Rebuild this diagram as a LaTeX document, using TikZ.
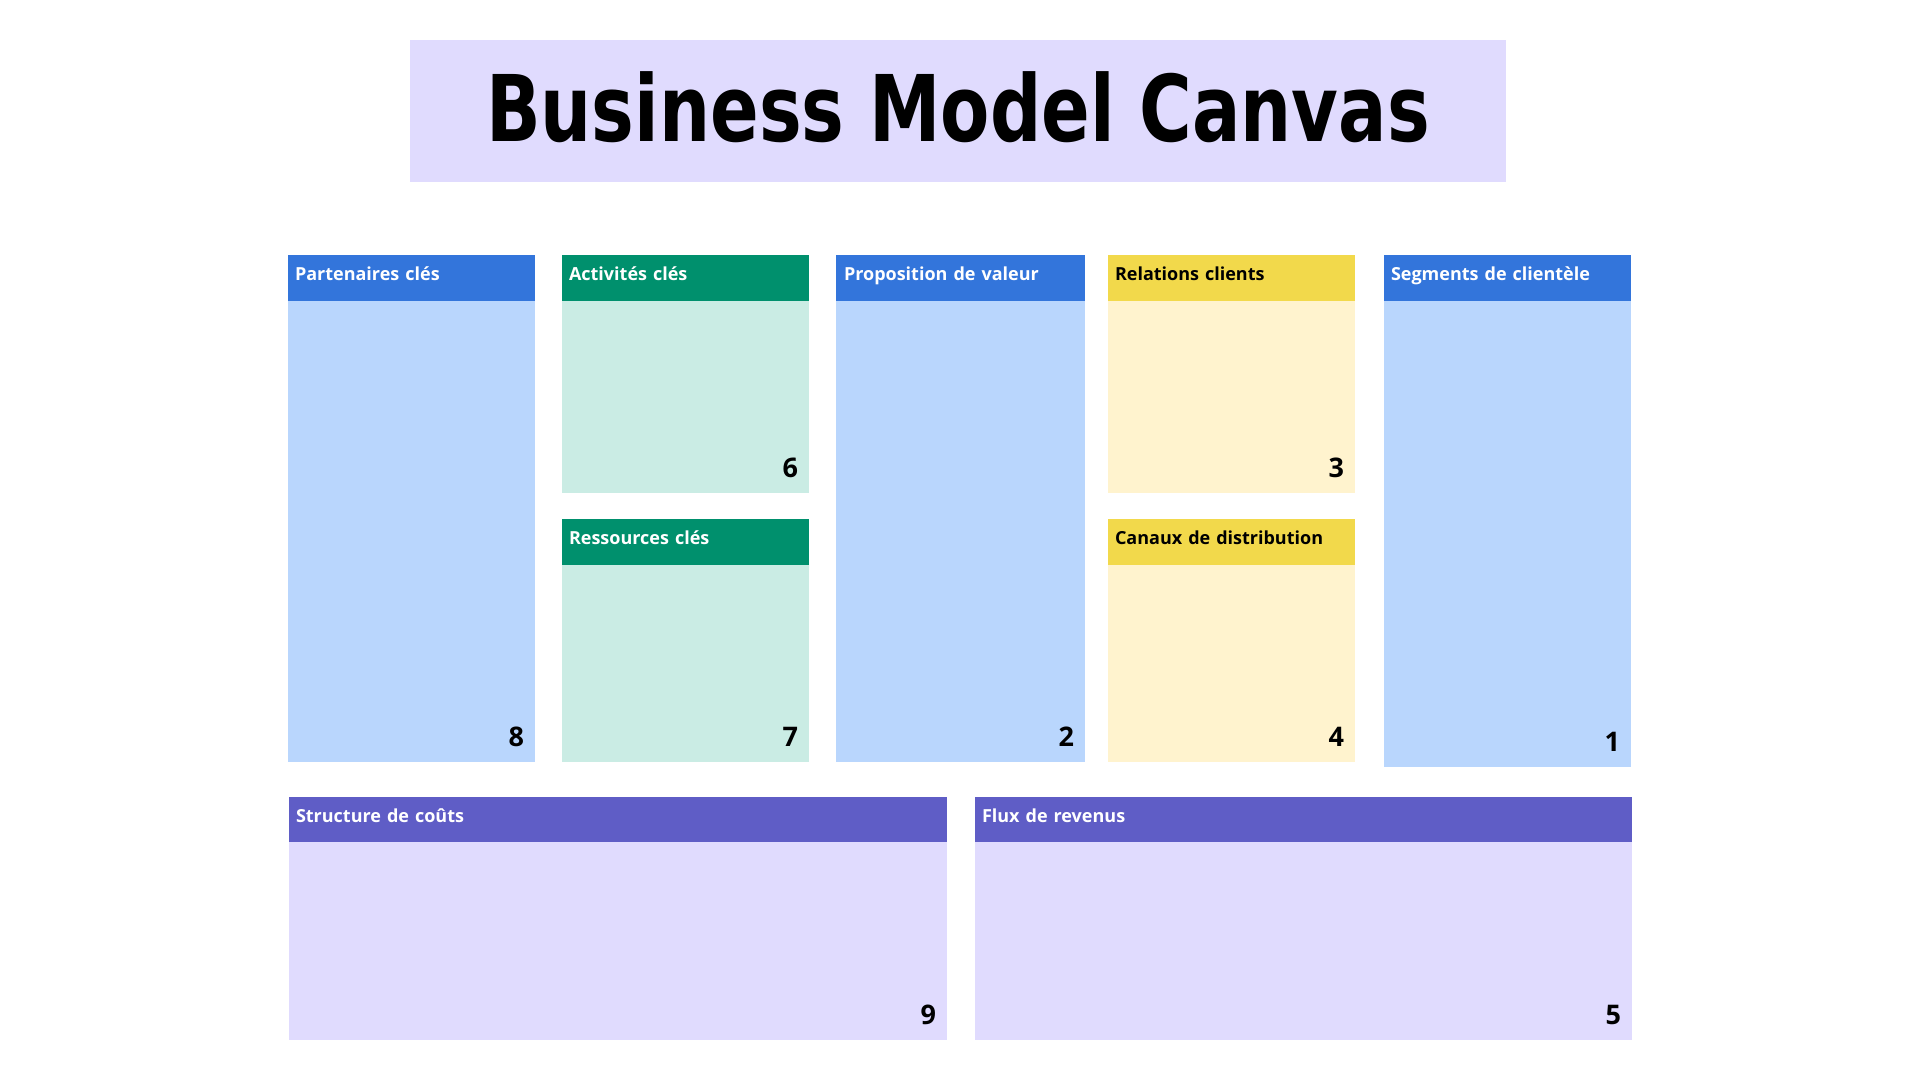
\documentclass[tikz,border=0pt]{standalone}
\usepackage{fontspec}
\setmainfont{Open Sans}
\newfontfamily\titlefont{DejaVu Sans}[FakeStretch=0.78]
\usetikzlibrary{positioning}

\definecolor{blueH}{HTML}{3375DB}
\definecolor{blueL}{HTML}{B9D6FD}
\definecolor{greenH}{HTML}{00906D}
\definecolor{greenL}{HTML}{CAECE4}
\definecolor{yellowH}{HTML}{F2D94B}
\definecolor{yellowL}{HTML}{FFF3CE}
\definecolor{purpleH}{HTML}{5F5DC6}
\definecolor{purpleL}{HTML}{E0DBFE}

\begin{document}
\begin{tikzpicture}[x=1pt, y=-1pt, every node/.style={inner sep=0, outer sep=0},
        body/.style={anchor=north west, minimum width=247pt},
        head/.style={anchor=north west, minimum width=247pt, minimum height=46pt, text width=233pt, inner xsep=7pt, text height=14pt, text depth=9pt, font=\fontsize{18}{20}\selectfont\bfseries},
        num/.style={anchor=base east, xshift=-11pt, yshift=16pt, font=\fontsize{27}{30}\selectfont\bfseries}]
        \path[fill=white, use as bounding box] (0,0) rectangle (1920,1080);

        \node[fill=purpleL, minimum width=1096pt, minimum height=142pt, text depth=9pt, font=\titlefont\fontsize{92}{100}\selectfont\bfseries] (title) at (958,111) {Business Model Canvas};

        \node[body, fill=blueL, minimum height=507pt] (part) at (288,255) {};
        \node[head, fill=blueH, text=white] (parthead) at (part.north west) {Partenaires clés};
        \node[num] (partnum) at (part.south east) {8};

        \node[body, fill=greenL, minimum height=238pt] (act) at (562,255) {};
        \node[head, fill=greenH, text=white] (acthead) at (act.north west) {Activités clés};
        \node[num] (actnum) at (act.south east) {6};

        \node[body, fill=greenL, minimum height=243pt, below=26pt of act.south west, anchor=north west] (res) {};
        \node[head, fill=greenH, text=white] (reshead) at (res.north west) {Ressources clés};
        \node[num] (resnum) at (res.south east) {7};

        \node[body, fill=blueL, minimum width=249pt, minimum height=507pt] (prop) at (836,255) {};
        \node[head, fill=blueH, text=white, minimum width=249pt] (prophead) at (prop.north west) {Proposition de valeur};
        \node[num] (propnum) at (prop.south east) {2};

        \node[body, fill=yellowL, minimum height=238pt] (rel) at (1108,255) {};
        \node[head, fill=yellowH, text=black] (relhead) at (rel.north west) {Relations clients};
        \node[num] (relnum) at (rel.south east) {3};

        \node[body, fill=yellowL, minimum height=243pt, below=26pt of rel.south west, anchor=north west] (can) {};
        \node[head, fill=yellowH, text=black] (canhead) at (can.north west) {Canaux de distribution};
        \node[num] (cannum) at (can.south east) {4};

        \node[body, fill=blueL, minimum height=512pt] (seg) at (1384,255) {};
        \node[head, fill=blueH, text=white] (seghead) at (seg.north west) {Segments de clientèle};
        \node[num] (segnum) at (seg.south east) {1};

        \node[body, fill=purpleL, minimum width=658pt, minimum height=243pt] (cost) at (289,797) {};
        \node[head, fill=purpleH, text=white, minimum width=658pt, text width=644pt, minimum height=45pt] (costhead) at (cost.north west) {Structure de coûts};
        \node[num] (costnum) at (cost.south east) {9};

        \node[body, fill=purpleL, minimum width=657pt, minimum height=243pt] (rev) at (975,797) {};
        \node[head, fill=purpleH, text=white, minimum width=657pt, text width=643pt, minimum height=45pt] (revhead) at (rev.north west) {Flux de revenus};
        \node[num] (revnum) at (rev.south east) {5};
    \end{tikzpicture}
\end{document}
